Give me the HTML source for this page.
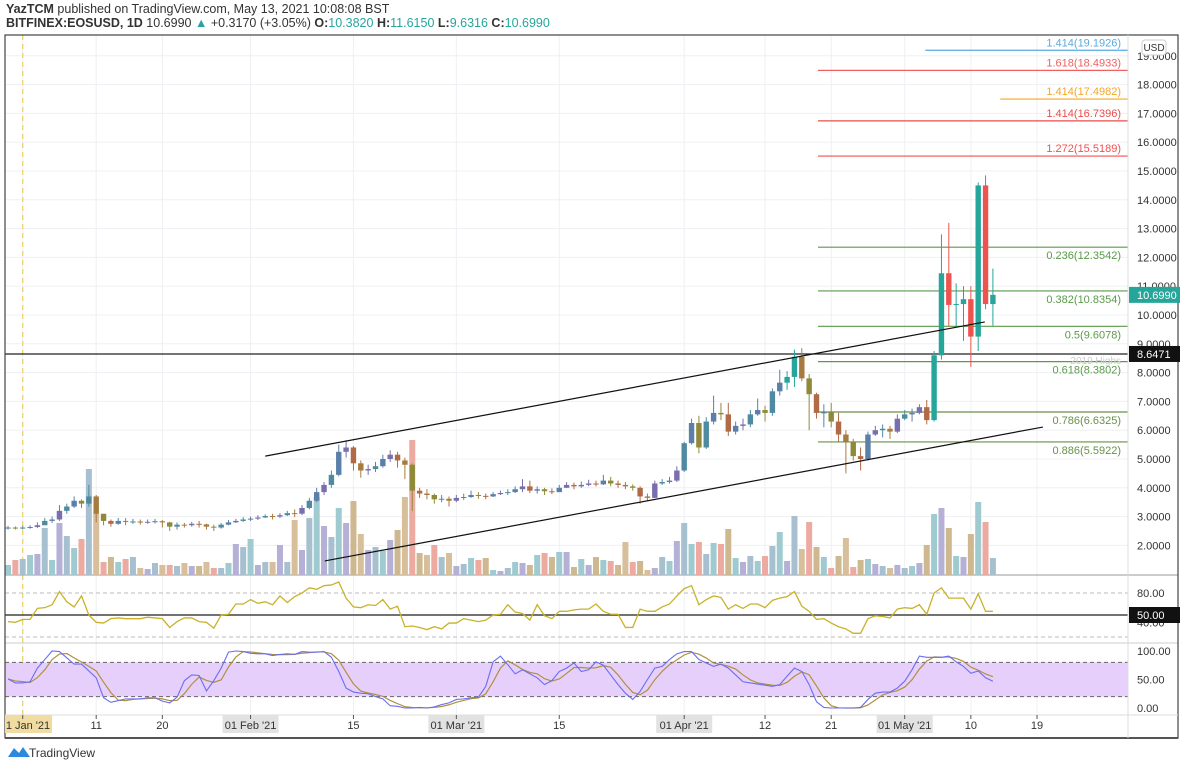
<!DOCTYPE html>
<html><head><meta charset="utf-8"><title>EOSUSD chart</title>
<style>
html,body{margin:0;padding:0;background:#fff;}
body{width:1186px;height:768px;overflow:hidden;font-family:"Liberation Sans",sans-serif;}
svg text{font-family:"Liberation Sans",sans-serif;}
</style></head>
<body>
<svg id="chart" width="1186" height="768" viewBox="0 0 1186 768" xmlns="http://www.w3.org/2000/svg">
  <g>
    <text x="6" y="13" font-size="12.5" fill="#333"><tspan font-weight="bold">YazTCM</tspan> published on TradingView.com, May 13, 2021 10:08:08 BST</text>
    <text x="6" y="27" font-size="12.5" fill="#333"><tspan font-weight="bold">BITFINEX:EOSUSD, 1D</tspan> 10.6990 <tspan fill="#26a69a">▲</tspan> +0.3170 (+3.05%) <tspan font-weight="bold">O:</tspan><tspan fill="#26a69a">10.3820</tspan> <tspan font-weight="bold">H:</tspan><tspan fill="#26a69a">11.6150</tspan> <tspan font-weight="bold">L:</tspan><tspan fill="#26a69a">9.6316</tspan> <tspan font-weight="bold">C:</tspan><tspan fill="#26a69a">10.6990</tspan></text>
  </g>
  <g id="grid"></g>
  <g id="panes"></g>
  <g id="volume"></g>
  <g id="fibs"></g>
  <g id="candles"></g>
  <g id="draw"></g>
  <g id="ind"></g>
  <g id="axes"></g>
  <g>
    <path d="M8 757 L14 748 L19 753 L23 747 L30 757 Z" fill="#2a8ae0"/>
    <text x="29" y="757" font-size="12" fill="#333">TradingView</text>
  </g>
</svg>
<script>
// ---- data ----
const closes = [2.62,2.60,
2.62,2.64,2.70,2.85,2.90,3.20,3.35,3.55,3.45,3.70,3.10,2.85,2.75,2.85,2.82,2.83,2.80,2.82,2.84,2.80,2.65,2.72,2.70,2.75,2.73,2.65,2.62,2.72,2.80,2.85,2.90,
2.93,2.97,3.02,3.00,3.05,3.12,3.10,3.30,3.55,3.85,4.10,4.45,5.25,5.40,4.85,4.60,4.65,4.75,5.00,5.15,4.95,4.80,3.90,3.80,3.75,3.60,3.62,3.55,
3.65,3.68,3.75,3.72,3.70,3.78,3.82,3.85,3.95,4.05,3.90,3.95,3.88,3.85,4.00,4.10,4.05,4.10,4.15,4.12,4.25,4.15,4.10,4.05,4.00,3.70,3.65,4.15,4.20,4.25,4.60,
5.55,6.25,5.40,6.30,6.60,6.55,5.95,6.15,6.20,6.55,6.70,6.60,7.35,7.65,7.85,8.55,7.80,7.25,6.60,6.62,6.30,5.85,5.60,5.10,5.00,5.85,6.00,6.05,5.95,6.40,
6.55,6.60,6.80,6.35,8.60,11.45,10.35,10.38,10.55,9.25,14.50,10.38,10.70];
const opens0 = 2.60;
const highs = [2.68,2.66,
2.68,2.70,2.80,2.95,3.00,3.40,3.45,3.70,3.60,4.10,3.75,3.00,2.90,2.95,2.95,2.92,2.90,2.90,2.92,2.88,2.82,2.80,2.78,2.82,2.85,2.75,2.72,2.78,2.88,2.92,2.98,
3.00,3.05,3.08,3.10,3.12,3.20,3.25,3.40,3.65,4.00,4.20,4.60,5.50,5.65,5.45,4.95,4.80,4.90,5.15,5.30,5.25,5.05,4.85,4.00,3.95,3.80,3.75,3.70,
3.75,3.80,3.90,3.85,3.80,3.85,3.90,3.95,4.05,4.30,4.25,4.05,4.00,3.98,4.10,4.20,4.18,4.22,4.28,4.25,4.45,4.38,4.25,4.20,4.12,4.05,3.80,4.25,4.30,4.38,4.75,
5.60,6.40,6.50,6.45,7.20,6.95,6.95,6.30,6.40,6.70,7.10,6.85,7.45,8.10,8.05,8.80,8.85,7.95,7.30,6.90,6.95,6.60,6.00,5.70,5.40,5.95,6.15,6.20,6.15,6.55,
6.70,6.75,6.90,7.05,8.75,12.80,13.20,11.10,11.00,11.00,14.60,14.85,11.61];
const lows = [2.55,2.55,
2.56,2.58,2.60,2.70,2.78,2.85,3.10,3.30,3.30,3.35,2.80,2.70,2.65,2.72,2.70,2.75,2.72,2.75,2.76,2.62,2.50,2.55,2.62,2.65,2.62,2.55,2.50,2.58,2.70,2.78,2.82,
2.85,2.88,2.95,2.90,2.95,3.02,2.98,3.05,3.25,3.50,3.75,4.00,4.40,5.05,4.60,4.35,4.45,4.55,4.70,4.90,4.70,4.30,3.20,3.65,3.60,3.45,3.50,3.35,
3.50,3.58,3.65,3.62,3.60,3.68,3.75,3.75,3.82,3.85,3.82,3.80,3.75,3.78,3.85,4.00,3.95,4.00,4.05,4.05,4.10,4.05,4.00,3.95,3.90,3.45,3.55,3.65,4.10,4.15,4.20,
4.55,5.50,5.20,5.35,6.20,6.35,5.80,5.85,6.00,6.10,6.50,6.30,6.50,7.20,7.40,7.50,7.70,6.00,6.40,6.10,6.10,5.60,4.50,4.95,4.60,4.95,5.80,5.75,5.70,5.90,
6.35,6.30,6.55,6.20,6.30,8.45,9.60,9.60,9.10,8.20,8.75,10.20,9.63];
const volumes = [10,15,
16,20,21,47,15,52,39,27,36,106,62,13,18,13,16,18,7,6,12,10,10,9,12,9,9,13,7,7,12,31,28,
36,10,13,13,30,13,55,25,57,78,49,38,67,52,74,41,25,28,24,35,45,78,135,22,20,30,18,22,
9,11,17,15,17,5,4,7,13,12,10,20,22,18,23,23,8,16,10,18,15,14,10,33,13,14,5,7,18,14,34,
52,31,33,21,32,31,46,17,13,19,14,19,29,43,14,59,26,53,28,18,7,19,37,8,15,16,11,9,7,10,
7,9,12,30,61,67,47,19,18,41,73,53,17];
const rsiValues = [41,40,44,44,59,60,64,82,68,61,76,50,40,39,45,46,45,45,45,47,46,45,33,41,46,46,41,40,32,50,51,65,65,71,66,68,64,76,67,75,80,87,85,90,91,95,73,61,60,64,63,71,58,62,34,35,33,30,34,31,39,39,45,43,41,43,50,51,64,54,52,43,64,49,45,55,55,57,
58,58,65,55,51,51,33,33,58,55,55,61,65,76,86,90,64,71,76,74,58,64,59,65,65,60,70,73,75,82,62,55,44,45,39,34,31,25,25,45,49,48,46,58,60,59,64,51,80,87,73,73,73,58,79,55,55];
const stochK = [51,44,44,46,70,85,100,99,88,77,77,65,53,18,10,13,16,16,16,18,18,12,9,19,48,58,57,30,48,70,98,100,99,96,95,95,92,94,95,94,99,98,98,99,89,64,35,28,26,25,20,16,4,3,0,0,1,0,2,6,9,15,16,18,19,38,81,91,76,60,67,60,53,41,48,64,70,79,
64,67,81,75,58,41,26,15,29,50,70,73,85,95,99,99,85,79,73,77,70,58,46,44,42,40,38,41,56,70,64,41,11,1,0,0,0,0,1,15,26,28,28,35,47,67,91,89,89,89,91,81,73,61,65,53,47];
const priceTicks = [2,3,4,5,6,7,8,9,10,11,12,13,14,15,16,17,18,19];
const dateTickIdx = [2,12,21,33,47,61,75,92,103,112,122,131,140];
const dateTickLabels = ["1 Jan '21","11","20","01 Feb '21","15","01 Mar '21","15","01 Apr '21","12","21","01 May '21","10","19"];
const dateTickBoxed = [1,0,0,1,0,1,0,1,0,0,1,0,0];
const fibPrices = [19.1926,18.4933,17.4982,16.7396,15.5189,12.3542,10.8354,9.6078,8.3802,6.6325,5.5922];
const fibLabels = ["1.414(19.1926)","1.618(18.4933)","1.414(17.4982)","1.414(16.7396)","1.272(15.5189)","0.236(12.3542)","0.382(10.8354)","0.5(9.6078)","0.618(8.3802)","0.786(6.6325)","0.886(5.5922)"];
const fibStartIdx = [124.8,110.2,135,110.2,110.2,110.2,110.2,110.2,110.2,110.2,110.2];
const fibColors = ["#5aa9e0","#f06060","#f5a623","#e84d4d","#f05050","#5a9a4a","#5a9a4a","#5a9a4a","#5a9a4a","#6a8f4a","#6a8f4a"];
const fibAbove = [1,1,1,1,1,0,0,0,0,0,0];
const trendStart = [[35,5.10],[43.1,1.46]];
const trendEnd = [[132.9,9.76],[140.8,6.11]];
const keyLevel = 8.6471;
const lastPrice = 10.6990;

// ---- scales ----
const PL=5, PR=1128;
const xOf = i => 8 + i*7.35;
const yP = p => 603 - 28.8*p;
const yV = v => 575 - v;
const yR = v => 615 - (v-50)*0.733;
const yS = v => 708 - v*0.57;
const NS='http://www.w3.org/2000/svg';
function mk(tag, attrs, parent){const e=document.createElementNS(NS,tag);for(const k in attrs)e.setAttribute(k,attrs[k]);parent.appendChild(e);return e;}
const G=id=>document.getElementById(id);

// grid
const grid=G('grid');
priceTicks.forEach(p=>{const l=mk('line',{x1:PL,x2:PR,y1:yP(p),y2:yP(p),stroke:'#eef0f4','stroke-width':1},grid);

});
dateTickIdx.forEach(i=>{const l=mk('line',{x1:xOf(i),x2:xOf(i),y1:35,y2:715,stroke:'#eef0f4','stroke-width':1},grid);

});
const jan=mk('line',{x1:xOf(2),x2:xOf(2),y1:35,y2:715,stroke:'#f0d070','stroke-width':1.3,'stroke-dasharray':'5,4'},grid);



// panes
const pn=G('panes');
[[575,'#999'],[643,'#ccc']].forEach(a=>{const l=mk('line',{x1:PL,x2:1178,y1:a[0],y2:a[0],stroke:a[1],'stroke-width':1},pn);

});
const band=mk('rect',{x:PL,y:yS(80),width:PR-PL,height:yS(20)-yS(80),fill:'#e6d0fb'},pn);


[80,20].forEach(v=>{const l=mk('line',{x1:PL,x2:PR,y1:yS(v),y2:yS(v),stroke:'#666','stroke-dasharray':'4,3'},pn);

});
[80,20].forEach(v=>{const l=mk('line',{x1:PL,x2:PR,y1:yR(v),y2:yR(v),stroke:'#bbb','stroke-dasharray':'4,3'},pn);

});

// volume
const upV=['#9fcbd0','#b4b0d6','#a7c0cf'], dnV=['#d8bf9c','#ecaaa0','#cdb88f'];
volumes.forEach((v,i)=>{const o=i?closes[i-1]:opens0;const up=closes[i]>=o;
const r=mk('rect',{x:xOf(i)-3,y:yV(v),width:6,height:v,fill:(up?upV:dnV)[i%3]},G('volume'));

});

// fibs
const fb=G('fibs');
fibPrices.forEach((p,k)=>{const y=yP(p);
const l=mk('line',{x1:xOf(fibStartIdx[k]),x2:PR,y1:y,y2:y,stroke:fibColors[k],'stroke-width':1.2},fb);


const t=mk('text',{x:1121,y:fibAbove[k]?y-4:y+12,'font-size':11,fill:fibColors[k],'text-anchor':'end'},fb);
t.textContent=fibLabels[k];

});
const kl=mk('line',{x1:PL,x2:PR,y1:yP(keyLevel),y2:yP(keyLevel),stroke:'#222','stroke-width':1.2},fb);


const hl=mk('text',{x:1121,y:yP(keyLevel)+10,'font-size':10,fill:'#ccc','text-anchor':'end'},fb);hl.textContent='2019 Highs';



// candles
const upC=['#5a7fa8','#7a6fae','#4f8aa0'], dnC=['#a77a3e','#8f8a3a','#b06a45'];
closes.forEach((c,i)=>{const o=i?closes[i-1]:opens0;const up=c>=o;
let col=(up?upC:dnC)[i%3];
if(i>=126||i===106||i===107) col=up?'#26a69a':'#ef5350';
const x=xOf(i);
const w=mk('line',{x1:x,x2:x,y1:yP(highs[i]),y2:yP(lows[i]),stroke:col,'stroke-width':1},G('candles'));


const top=yP(Math.max(o,c)),bot=yP(Math.min(o,c));
const b=mk('rect',{x:x-2.7,y:top,width:5.4,height:Math.max(1,bot-top),fill:col},G('candles'));

});

// trendlines
trendStart.forEach((s,k)=>{const e=trendEnd[k];
const l=mk('line',{x1:xOf(s[0]),y1:yP(s[1]),x2:xOf(e[0]),y2:yP(e[1]),stroke:'#111','stroke-width':1.2},G('draw'));

});

// indicators
const ind=G('ind');
const rl=mk('line',{x1:PL,x2:PR,y1:yR(50),y2:yR(50),stroke:'#444','stroke-width':1.5},ind);


const rp=mk('polyline',{points:rsiValues.map((v,i)=>xOf(i)+','+yR(v)).join(' '),fill:'none',stroke:'#c9b22a','stroke-width':1.3},ind);


const stochD=stochK.map((v,i)=>{const a=stochK.slice(Math.max(0,i-2),i+1);return a.reduce((s,x)=>s+x,0)/a.length;});
const dp=mk('polyline',{points:stochD.map((v,i)=>xOf(i)+','+yS(v)).join(' '),fill:'none',stroke:'#b09040','stroke-width':1.2},ind);


const kp=mk('polyline',{points:stochK.map((v,i)=>xOf(i)+','+yS(v)).join(' '),fill:'none',stroke:'#6a6ef0','stroke-width':1.1},ind);



// axes
const ax=G('axes');
const frame=mk('rect',{x:5,y:35,width:1173,height:703,fill:'none',stroke:'#444','stroke-width':1.2},ax);


const bl=mk('line',{x1:5,x2:1178,y1:738,y2:738,stroke:'#555','stroke-width':2},ax);


const al=mk('line',{x1:PR,x2:PR,y1:35,y2:738,stroke:'#ddd'},ax);


const dl=mk('line',{x1:5,x2:1178,y1:715,y2:715,stroke:'#ddd'},ax);


priceTicks.forEach(p=>{const t=mk('text',{x:1137,y:yP(p)+4,'font-size':11,fill:'#333'},ax);t.textContent=p.toFixed(4);

});
const ub=mk('rect',{x:1142,y:40,width:24,height:15,rx:3,fill:'#fff',stroke:'#ccc'},ax);


const ut=mk('text',{x:1154,y:51,'font-size':10,fill:'#333','text-anchor':'middle'},ax);ut.textContent='USD';


function tag(y,txt,bg,name){const r=mk('rect',{x:1129,y:y-8,width:51,height:16,fill:bg},ax);


const t=mk('text',{x:1137,y:y+4,'font-size':11,fill:'#fff'},ax);t.textContent=txt;

}
tag(yP(lastPrice),lastPrice.toFixed(4),'#26a69a','last-price-label');
tag(yP(keyLevel),keyLevel.toFixed(4),'#111','key-level-label');
[[80,'80.00'],[40,'40.00']].forEach(a=>{const t=mk('text',{x:1137,y:yR(a[0])+4,'font-size':11,fill:'#333'},ax);t.textContent=a[1];

});
tag(yR(50),'50.00','#111','rsi-50-label');
[[100,'100.00'],[50,'50.00'],[0,'0.00']].forEach(a=>{const t=mk('text',{x:1137,y:yS(a[0])+4,'font-size':11,fill:'#333'},ax);t.textContent=a[1];

});
dateTickIdx.forEach((i,k)=>{const x=xOf(i);
if(dateTickBoxed[k]){const w=k===0?47:56;const r=mk('rect',{x:k===0?5:x-w/2,y:715,width:w,height:18,fill:k===0?'#f0dca0':'#e2e2e2'},ax);

}
const tk=mk('line',{x1:x,x2:x,y1:715,y2:719,stroke:'#555'},ax);


const t=mk('text',{x:k===0?28:x,y:729,'font-size':11,fill:'#333','text-anchor':'middle'},ax);t.textContent=dateTickLabels[k];

});
</script>
</body></html>
